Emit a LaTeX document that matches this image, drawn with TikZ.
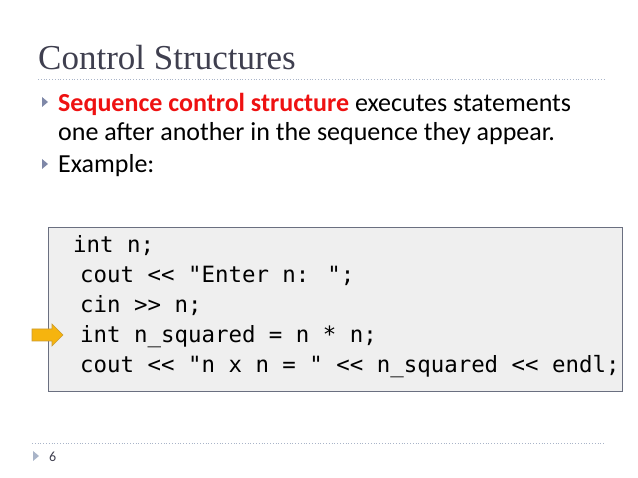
\documentclass[tikz,border=0pt]{standalone}
\usepackage{fontspec}
\setmainfont{Carlito}
\newfontfamily\titlefont{Liberation Serif}
\newfontfamily\codefont{DejaVu Sans Mono}
\definecolor{titlegray}{HTML}{3F3F4F}
\definecolor{bulletblue}{HTML}{7F88A8}
\definecolor{seqred}{HTML}{EE1111}
\definecolor{codebg}{HTML}{EFEFEF}
\definecolor{boxedge}{HTML}{6A6F80}
\definecolor{arrowfill}{HTML}{F6B40E}
\definecolor{arrowedge}{HTML}{C99A30}
\definecolor{dotline}{HTML}{A9B4C8}
\begin{document}
\begin{tikzpicture}[x=1pt,y=-1pt,
  body/.style={anchor=base west,inner sep=0pt,font=\fontsize{26}{30}\selectfont},
  codeline/.style={anchor=base west,inner sep=0pt,font=\codefont\fontsize{22.4}{26}\selectfont},
  bul/.style={fill=bulletblue}]
\useasboundingbox (0,0) rectangle (638,478);
\node[anchor=base west,inner sep=0pt,text=titlegray,font=\titlefont\fontsize{35}{38}\selectfont] (title) at (38,70) {Control Structures};
\draw[dotline,dotted,line width=0.8pt] (38,79) -- (605,79);
\fill[bul] (42,97) -- (48,102) -- (42,107) -- cycle;
\node[body] (l1) at (58,112) {\textcolor{seqred}{\bfseries Sequence control structure} executes statements};
\node[body] (l2) at (58,141) {one after another in the sequence they appear.};
\fill[bul] (42,159) -- (48,164) -- (42,169) -- cycle;
\node[body] (l3) at (58,173) {Example:};
\draw[boxedge,fill=codebg,line width=1pt] (48,228) rectangle (622,392);
\node[codeline] (c1) at (73,253) {int n;};
\node[codeline] (c2) at (80,283) {cout << "Enter n: ";};
\node[codeline] (c3) at (80,313) {cin >> n;};
\node[codeline] (c4) at (80,343) {int n\_squared = n * n;};
\node[codeline] (c5) at (80,373) {cout << "n x n = " << n\_squared << endl;};
\draw[arrowedge,fill=arrowfill,line width=0.6pt] (32,329) -- (52,329) -- (52,324) -- (63,335) -- (52,346) -- (52,341) -- (32,341) -- cycle;
\draw[dotline,dotted,line width=0.8pt] (32,443) -- (605,443);
\fill[fill=dotline] (33,451) -- (39,456) -- (33,461) -- cycle;
\node[anchor=base west,inner sep=0pt,text=titlegray,font=\fontsize{14}{16}\selectfont] (pg) at (49,462) {6};
\end{tikzpicture}
\end{document}
